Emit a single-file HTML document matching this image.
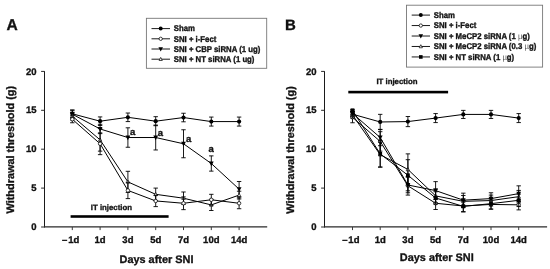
<!DOCTYPE html>
<html><head><meta charset="utf-8"><title>Figure</title>
<style>html,body{margin:0;padding:0;background:#fff}svg{display:block}</style></head>
<body>
<svg width="550" height="269" viewBox="0 0 550 269" font-family='"Liberation Sans", Arial, sans-serif' font-weight="bold" fill="#111">
<style>text{text-rendering:geometricPrecision;stroke:#111;stroke-width:0.32px;paint-order:stroke}.mu{stroke:none;fill:#555}.t9{font-size:9.5px}.t10{font-size:10.9px}.tl{font-size:8.1px}.pl{font-size:16px}.mu{font-weight:normal}</style>
<rect width="550" height="269" fill="#fff"/>
<path d="M44.5 71.2V227.4" stroke="#1a1a1a" stroke-width="1" fill="none"/>
<path d="M44.0 226.9H267.2" stroke="#2a2a2a" stroke-width="1.3" fill="none"/>
<path d="M41.10 227.00H44.5" stroke="#2a2a2a" stroke-width="1.0"/>
<text x="36.60" y="230.15" text-anchor="end" class="t9">0</text>
<path d="M41.10 188.10H44.5" stroke="#2a2a2a" stroke-width="1.0"/>
<text x="36.60" y="191.25" text-anchor="end" class="t9">5</text>
<path d="M41.10 149.20H44.5" stroke="#2a2a2a" stroke-width="1.0"/>
<text x="36.60" y="152.35" text-anchor="end" class="t9">10</text>
<path d="M41.10 110.30H44.5" stroke="#2a2a2a" stroke-width="1.0"/>
<text x="36.60" y="113.45" text-anchor="end" class="t9">15</text>
<path d="M41.10 71.40H44.5" stroke="#2a2a2a" stroke-width="1.0"/>
<text x="36.60" y="74.55" text-anchor="end" class="t9">20</text>
<path d="M72.30 227V230.1" stroke="#333" stroke-width="0.95"/>
<text x="70.60" y="243.3" text-anchor="middle" class="t9"><tspan letter-spacing="0.9">–</tspan>1d</text>
<path d="M100.10 227V230.1" stroke="#333" stroke-width="0.95"/>
<text x="100.10" y="243.3" text-anchor="middle" class="t9">1d</text>
<path d="M127.90 227V230.1" stroke="#333" stroke-width="0.95"/>
<text x="127.90" y="243.3" text-anchor="middle" class="t9">3d</text>
<path d="M155.70 227V230.1" stroke="#333" stroke-width="0.95"/>
<text x="155.70" y="243.3" text-anchor="middle" class="t9">5d</text>
<path d="M183.50 227V230.1" stroke="#333" stroke-width="0.95"/>
<text x="183.50" y="243.3" text-anchor="middle" class="t9">7d</text>
<path d="M211.30 227V230.1" stroke="#333" stroke-width="0.95"/>
<text x="211.30" y="243.3" text-anchor="middle" class="t9">10d</text>
<path d="M239.10 227V230.1" stroke="#333" stroke-width="0.95"/>
<text x="239.10" y="243.3" text-anchor="middle" class="t9">14d</text>
<text x="6.5" y="29.7" class="pl" style="font-size:15.6px">A</text>
<text transform="translate(14.2,149.7) rotate(-90)" text-anchor="middle" class="t10">Withdrawal threshold (g)</text>
<text x="156.5" y="262.6" text-anchor="middle" class="t10">Days after SNI</text>
<rect x="70.6" y="215.2" width="98" height="2.6" fill="#000"/>
<text x="90.8" y="209.7" class="tl" style="font-size:7.8px">IT injection</text>
<polyline points="72.30,113.80 100.10,121.19 127.90,117.30 155.70,121.19 183.50,117.54 211.30,121.58 239.10,121.58" fill="none" stroke="#000" stroke-width="1.0"/>
<path d="M72.30 109.91V117.69M70.10 109.91h4.4M70.10 117.69h4.4" stroke="#000" stroke-width="0.9" fill="none"/>
<path d="M100.10 116.91V125.47M97.90 116.91h4.4M97.90 125.47h4.4" stroke="#000" stroke-width="0.9" fill="none"/>
<path d="M127.90 113.02V121.58M125.70 113.02h4.4M125.70 121.58h4.4" stroke="#000" stroke-width="0.9" fill="none"/>
<path d="M155.70 116.68V125.70M153.50 116.68h4.4M153.50 125.70h4.4" stroke="#000" stroke-width="0.9" fill="none"/>
<path d="M183.50 113.26V121.81M181.30 113.26h4.4M181.30 121.81h4.4" stroke="#000" stroke-width="0.9" fill="none"/>
<path d="M211.30 117.07V126.09M209.10 117.07h4.4M209.10 126.09h4.4" stroke="#000" stroke-width="0.9" fill="none"/>
<path d="M239.10 117.07V126.09M236.90 117.07h4.4M236.90 126.09h4.4" stroke="#000" stroke-width="0.9" fill="none"/>
<circle cx="72.30" cy="113.80" r="2.10" fill="#000"/>
<circle cx="100.10" cy="121.19" r="2.10" fill="#000"/>
<circle cx="127.90" cy="117.30" r="2.10" fill="#000"/>
<circle cx="155.70" cy="121.19" r="2.10" fill="#000"/>
<circle cx="183.50" cy="117.54" r="2.10" fill="#000"/>
<circle cx="211.30" cy="121.58" r="2.10" fill="#000"/>
<circle cx="239.10" cy="121.58" r="2.10" fill="#000"/>
<polyline points="72.30,114.19 100.10,128.97 127.90,137.53 155.70,137.53 183.50,143.75 211.30,163.52 239.10,189.11" fill="none" stroke="#000" stroke-width="1.0"/>
<path d="M72.30 110.30V118.08M70.10 110.30h4.4M70.10 118.08h4.4" stroke="#000" stroke-width="0.9" fill="none"/>
<path d="M100.10 124.30V133.64M97.90 124.30h4.4M97.90 133.64h4.4" stroke="#000" stroke-width="0.9" fill="none"/>
<path d="M127.90 127.80V147.25M125.70 127.80h4.4M125.70 147.25h4.4" stroke="#000" stroke-width="0.9" fill="none"/>
<path d="M155.70 125.08V149.98M153.50 125.08h4.4M153.50 149.98h4.4" stroke="#000" stroke-width="0.9" fill="none"/>
<path d="M183.50 129.75V157.76M181.30 129.75h4.4M181.30 157.76h4.4" stroke="#000" stroke-width="0.9" fill="none"/>
<path d="M211.30 155.89V171.14M209.10 155.89h4.4M209.10 171.14h4.4" stroke="#000" stroke-width="0.9" fill="none"/>
<path d="M239.10 181.49V196.74M236.90 181.49h4.4M236.90 196.74h4.4" stroke="#000" stroke-width="0.9" fill="none"/>
<polygon points="69.90,112.27 74.70,112.27 72.30,116.83" fill="#000"/>
<polygon points="97.70,127.05 102.50,127.05 100.10,131.61" fill="#000"/>
<polygon points="125.50,135.61 130.30,135.61 127.90,140.17" fill="#000"/>
<polygon points="153.30,135.61 158.10,135.61 155.70,140.17" fill="#000"/>
<polygon points="181.10,141.83 185.90,141.83 183.50,146.39" fill="#000"/>
<polygon points="208.90,161.60 213.70,161.60 211.30,166.16" fill="#000"/>
<polygon points="236.70,187.19 241.50,187.19 239.10,191.75" fill="#000"/>
<polyline points="72.30,116.13 100.10,139.86 127.90,181.88 155.70,194.32 183.50,198.21 211.30,204.90 239.10,195.10" fill="none" stroke="#000" stroke-width="1.0"/>
<path d="M72.30 112.24V120.02M70.10 112.24h4.4M70.10 120.02h4.4" stroke="#000" stroke-width="0.9" fill="none"/>
<path d="M100.10 128.58V151.14M97.90 128.58h4.4M97.90 151.14h4.4" stroke="#000" stroke-width="0.9" fill="none"/>
<path d="M127.90 171.30V192.46M125.70 171.30h4.4M125.70 192.46h4.4" stroke="#000" stroke-width="0.9" fill="none"/>
<path d="M155.70 188.10V200.55M153.50 188.10h4.4M153.50 200.55h4.4" stroke="#000" stroke-width="0.9" fill="none"/>
<path d="M183.50 191.99V204.44M181.30 191.99h4.4M181.30 204.44h4.4" stroke="#000" stroke-width="0.9" fill="none"/>
<path d="M211.30 199.30V210.51M209.10 199.30h4.4M209.10 210.51h4.4" stroke="#000" stroke-width="0.9" fill="none"/>
<path d="M239.10 191.21V198.99M236.90 191.21h4.4M236.90 198.99h4.4" stroke="#000" stroke-width="0.9" fill="none"/>
<polygon points="70.60,117.49 74.00,117.49 72.30,114.26" fill="#fff" stroke="#000" stroke-width="0.7"/>
<polygon points="98.40,141.22 101.80,141.22 100.10,137.99" fill="#fff" stroke="#000" stroke-width="0.7"/>
<polygon points="126.20,183.24 129.60,183.24 127.90,180.01" fill="#fff" stroke="#000" stroke-width="0.7"/>
<polygon points="154.00,195.68 157.40,195.68 155.70,192.45" fill="#fff" stroke="#000" stroke-width="0.7"/>
<polygon points="181.80,199.57 185.20,199.57 183.50,196.34" fill="#fff" stroke="#000" stroke-width="0.7"/>
<polygon points="209.60,206.26 213.00,206.26 211.30,203.03" fill="#fff" stroke="#000" stroke-width="0.7"/>
<polygon points="237.40,196.46 240.80,196.46 239.10,193.23" fill="#fff" stroke="#000" stroke-width="0.7"/>
<polyline points="72.30,119.25 100.10,143.75 127.90,190.43 155.70,200.94 183.50,203.27 211.30,199.77 239.10,203.27" fill="none" stroke="#000" stroke-width="1.0"/>
<path d="M72.30 115.75V122.75M70.10 115.75h4.4M70.10 122.75h4.4" stroke="#000" stroke-width="0.9" fill="none"/>
<path d="M100.10 132.86V154.65M97.90 132.86h4.4M97.90 154.65h4.4" stroke="#000" stroke-width="0.9" fill="none"/>
<path d="M127.90 182.26V198.60M125.70 182.26h4.4M125.70 198.60h4.4" stroke="#000" stroke-width="0.9" fill="none"/>
<path d="M155.70 195.26V206.62M153.50 195.26h4.4M153.50 206.62h4.4" stroke="#000" stroke-width="0.9" fill="none"/>
<path d="M183.50 196.89V209.65M181.30 196.89h4.4M181.30 209.65h4.4" stroke="#000" stroke-width="0.9" fill="none"/>
<path d="M211.30 194.32V205.22M209.10 194.32h4.4M209.10 205.22h4.4" stroke="#000" stroke-width="0.9" fill="none"/>
<path d="M239.10 197.82V208.72M236.90 197.82h4.4M236.90 208.72h4.4" stroke="#000" stroke-width="0.9" fill="none"/>
<circle cx="72.30" cy="119.25" r="1.75" fill="#fff" stroke="#000" stroke-width="0.75"/>
<circle cx="100.10" cy="143.75" r="1.75" fill="#fff" stroke="#000" stroke-width="0.75"/>
<circle cx="127.90" cy="190.43" r="1.75" fill="#fff" stroke="#000" stroke-width="0.75"/>
<circle cx="155.70" cy="200.94" r="1.75" fill="#fff" stroke="#000" stroke-width="0.75"/>
<circle cx="183.50" cy="203.27" r="1.75" fill="#fff" stroke="#000" stroke-width="0.75"/>
<circle cx="211.30" cy="199.77" r="1.75" fill="#fff" stroke="#000" stroke-width="0.75"/>
<circle cx="239.10" cy="203.27" r="1.75" fill="#fff" stroke="#000" stroke-width="0.75"/>
<text x="132.6" y="134.9" text-anchor="middle" class="t9">a</text>
<text x="160.3" y="136.2" text-anchor="middle" class="t9">a</text>
<text x="188.6" y="142.3" text-anchor="middle" class="t9">a</text>
<text x="211.2" y="152.0" text-anchor="middle" class="t9">a</text>
<rect x="146.4" y="18.3" width="120.3" height="50" fill="#fff" stroke="#777" stroke-width="0.9"/>
<path d="M151.5 28.60H170" stroke="#000" stroke-width="0.9"/>
<circle cx="160.70" cy="28.60" r="1.99" fill="#000"/>
<text transform="translate(173.8,31.40) scale(0.96,1.04)" class="tl">Sham</text>
<path d="M151.5 38.80H170" stroke="#000" stroke-width="0.9"/>
<circle cx="160.70" cy="38.80" r="1.66" fill="#fff" stroke="#000" stroke-width="0.75"/>
<text transform="translate(173.8,41.60) scale(0.96,1.04)" class="tl">SNI + i-Fect</text>
<path d="M151.5 49.00H170" stroke="#000" stroke-width="0.9"/>
<polygon points="158.42,47.18 162.98,47.18 160.70,51.51" fill="#000"/>
<text transform="translate(173.8,51.80) scale(0.96,1.04)" class="tl">SNI + CBP siRNA (1 ug)</text>
<path d="M151.5 59.20H170" stroke="#000" stroke-width="0.9"/>
<polygon points="159.08,60.49 162.31,60.49 160.70,57.42" fill="#fff" stroke="#000" stroke-width="0.7"/>
<text transform="translate(173.8,62.00) scale(0.96,1.04)" class="tl">SNI + NT siRNA (1 ug)</text>
<path d="M324.5 71.2V227.4" stroke="#1a1a1a" stroke-width="1" fill="none"/>
<path d="M324.0 226.9H547.1" stroke="#2a2a2a" stroke-width="1.3" fill="none"/>
<path d="M321.10 227.00H324.5" stroke="#2a2a2a" stroke-width="1.0"/>
<text x="316.60" y="230.15" text-anchor="end" class="t9">0</text>
<path d="M321.10 188.10H324.5" stroke="#2a2a2a" stroke-width="1.0"/>
<text x="316.60" y="191.25" text-anchor="end" class="t9">5</text>
<path d="M321.10 149.20H324.5" stroke="#2a2a2a" stroke-width="1.0"/>
<text x="316.60" y="152.35" text-anchor="end" class="t9">10</text>
<path d="M321.10 110.30H324.5" stroke="#2a2a2a" stroke-width="1.0"/>
<text x="316.60" y="113.45" text-anchor="end" class="t9">15</text>
<path d="M321.10 71.40H324.5" stroke="#2a2a2a" stroke-width="1.0"/>
<text x="316.60" y="74.55" text-anchor="end" class="t9">20</text>
<path d="M352.50 227V230.1" stroke="#333" stroke-width="0.95"/>
<text x="350.80" y="242.9" text-anchor="middle" class="t9"><tspan letter-spacing="0.9">–</tspan>1d</text>
<path d="M380.20 227V230.1" stroke="#333" stroke-width="0.95"/>
<text x="380.20" y="242.9" text-anchor="middle" class="t9">1d</text>
<path d="M407.90 227V230.1" stroke="#333" stroke-width="0.95"/>
<text x="407.90" y="242.9" text-anchor="middle" class="t9">3d</text>
<path d="M435.60 227V230.1" stroke="#333" stroke-width="0.95"/>
<text x="435.60" y="242.9" text-anchor="middle" class="t9">5d</text>
<path d="M463.30 227V230.1" stroke="#333" stroke-width="0.95"/>
<text x="463.30" y="242.9" text-anchor="middle" class="t9">7d</text>
<path d="M491.00 227V230.1" stroke="#333" stroke-width="0.95"/>
<text x="491.00" y="242.9" text-anchor="middle" class="t9">10d</text>
<path d="M518.70 227V230.1" stroke="#333" stroke-width="0.95"/>
<text x="518.70" y="242.9" text-anchor="middle" class="t9">14d</text>
<text x="284.9" y="29.7" class="pl" style="font-size:15px">B</text>
<text transform="translate(294.3,150.0) rotate(-90)" text-anchor="middle" class="t10">Withdrawal threshold (g)</text>
<text x="436.8" y="261.0" text-anchor="middle" class="t10">Days after SNI</text>
<rect x="348.3" y="90.8" width="99.8" height="2.6" fill="#000"/>
<text x="376.4" y="84.4" class="tl" style="font-size:7.8px">IT injection</text>
<polyline points="352.50,114.19 380.20,121.97 407.90,121.58 435.60,118.08 463.30,114.42 491.00,114.42 518.70,118.08" fill="none" stroke="#000" stroke-width="1.0"/>
<path d="M352.50 111.86V116.52M350.30 111.86h4.4M350.30 116.52h4.4" stroke="#000" stroke-width="0.9" fill="none"/>
<path d="M380.20 114.35V129.59M378.00 114.35h4.4M378.00 129.59h4.4" stroke="#000" stroke-width="0.9" fill="none"/>
<path d="M407.90 116.52V126.64M405.70 116.52h4.4M405.70 126.64h4.4" stroke="#000" stroke-width="0.9" fill="none"/>
<path d="M435.60 113.57V122.59M433.40 113.57h4.4M433.40 122.59h4.4" stroke="#000" stroke-width="0.9" fill="none"/>
<path d="M463.30 110.38V118.47M461.10 110.38h4.4M461.10 118.47h4.4" stroke="#000" stroke-width="0.9" fill="none"/>
<path d="M491.00 110.38V118.47M488.80 110.38h4.4M488.80 118.47h4.4" stroke="#000" stroke-width="0.9" fill="none"/>
<path d="M518.70 113.57V122.59M516.50 113.57h4.4M516.50 122.59h4.4" stroke="#000" stroke-width="0.9" fill="none"/>
<circle cx="352.50" cy="114.19" r="2.10" fill="#000"/>
<circle cx="380.20" cy="121.97" r="2.10" fill="#000"/>
<circle cx="407.90" cy="121.58" r="2.10" fill="#000"/>
<circle cx="435.60" cy="118.08" r="2.10" fill="#000"/>
<circle cx="463.30" cy="114.42" r="2.10" fill="#000"/>
<circle cx="491.00" cy="114.42" r="2.10" fill="#000"/>
<circle cx="518.70" cy="118.08" r="2.10" fill="#000"/>
<polyline points="352.50,117.30 380.20,141.42 407.90,185.77 435.60,203.27 463.30,205.99 491.00,204.44 518.70,204.83" fill="none" stroke="#000" stroke-width="1.0"/>
<path d="M352.50 111.86V122.75M350.30 111.86h4.4M350.30 122.75h4.4" stroke="#000" stroke-width="0.9" fill="none"/>
<path d="M380.20 131.69V151.14M378.00 131.69h4.4M378.00 151.14h4.4" stroke="#000" stroke-width="0.9" fill="none"/>
<path d="M407.90 176.43V195.10M405.70 176.43h4.4M405.70 195.10h4.4" stroke="#000" stroke-width="0.9" fill="none"/>
<path d="M435.60 197.05V209.50M433.40 197.05h4.4M433.40 209.50h4.4" stroke="#000" stroke-width="0.9" fill="none"/>
<path d="M463.30 200.39V211.60M461.10 200.39h4.4M461.10 211.60h4.4" stroke="#000" stroke-width="0.9" fill="none"/>
<path d="M491.00 199.77V209.11M488.80 199.77h4.4M488.80 209.11h4.4" stroke="#000" stroke-width="0.9" fill="none"/>
<path d="M518.70 199.77V209.88M516.50 199.77h4.4M516.50 209.88h4.4" stroke="#000" stroke-width="0.9" fill="none"/>
<circle cx="352.50" cy="117.30" r="1.75" fill="#fff" stroke="#000" stroke-width="0.75"/>
<circle cx="380.20" cy="141.42" r="1.75" fill="#fff" stroke="#000" stroke-width="0.75"/>
<circle cx="407.90" cy="185.77" r="1.75" fill="#fff" stroke="#000" stroke-width="0.75"/>
<circle cx="435.60" cy="203.27" r="1.75" fill="#fff" stroke="#000" stroke-width="0.75"/>
<circle cx="463.30" cy="205.99" r="1.75" fill="#fff" stroke="#000" stroke-width="0.75"/>
<circle cx="491.00" cy="204.44" r="1.75" fill="#fff" stroke="#000" stroke-width="0.75"/>
<circle cx="518.70" cy="204.83" r="1.75" fill="#fff" stroke="#000" stroke-width="0.75"/>
<polyline points="352.50,114.97 380.20,154.65 407.90,169.43 435.60,195.88 463.30,201.33 491.00,200.55 518.70,196.66" fill="none" stroke="#000" stroke-width="1.0"/>
<path d="M352.50 111.86V118.08M350.30 111.86h4.4M350.30 118.08h4.4" stroke="#000" stroke-width="0.9" fill="none"/>
<path d="M380.20 142.20V167.09M378.00 142.20h4.4M378.00 167.09h4.4" stroke="#000" stroke-width="0.9" fill="none"/>
<path d="M407.90 153.87V184.99M405.70 153.87h4.4M405.70 184.99h4.4" stroke="#000" stroke-width="0.9" fill="none"/>
<path d="M435.60 188.88V202.88M433.40 188.88h4.4M433.40 202.88h4.4" stroke="#000" stroke-width="0.9" fill="none"/>
<path d="M463.30 195.49V207.16M461.10 195.49h4.4M461.10 207.16h4.4" stroke="#000" stroke-width="0.9" fill="none"/>
<path d="M491.00 195.10V205.99M488.80 195.10h4.4M488.80 205.99h4.4" stroke="#000" stroke-width="0.9" fill="none"/>
<path d="M518.70 190.43V202.88M516.50 190.43h4.4M516.50 202.88h4.4" stroke="#000" stroke-width="0.9" fill="none"/>
<polygon points="350.80,116.33 354.20,116.33 352.50,113.10" fill="#fff" stroke="#000" stroke-width="0.7"/>
<polygon points="378.50,156.01 381.90,156.01 380.20,152.78" fill="#fff" stroke="#000" stroke-width="0.7"/>
<polygon points="406.20,170.79 409.60,170.79 407.90,167.56" fill="#fff" stroke="#000" stroke-width="0.7"/>
<polygon points="433.90,197.24 437.30,197.24 435.60,194.01" fill="#fff" stroke="#000" stroke-width="0.7"/>
<polygon points="461.60,202.69 465.00,202.69 463.30,199.46" fill="#fff" stroke="#000" stroke-width="0.7"/>
<polygon points="489.30,201.91 492.70,201.91 491.00,198.68" fill="#fff" stroke="#000" stroke-width="0.7"/>
<polygon points="517.00,198.02 520.40,198.02 518.70,194.79" fill="#fff" stroke="#000" stroke-width="0.7"/>
<polyline points="352.50,113.41 380.20,137.53 407.90,184.99 435.60,190.59 463.30,200.16 491.00,198.60 518.70,193.62" fill="none" stroke="#000" stroke-width="1.0"/>
<path d="M352.50 111.08V115.75M350.30 111.08h4.4M350.30 115.75h4.4" stroke="#000" stroke-width="0.9" fill="none"/>
<path d="M380.20 129.36V145.70M378.00 129.36h4.4M378.00 145.70h4.4" stroke="#000" stroke-width="0.9" fill="none"/>
<path d="M407.90 177.21V192.77M405.70 177.21h4.4M405.70 192.77h4.4" stroke="#000" stroke-width="0.9" fill="none"/>
<path d="M435.60 181.64V199.54M433.40 181.64h4.4M433.40 199.54h4.4" stroke="#000" stroke-width="0.9" fill="none"/>
<path d="M463.30 193.16V207.16M461.10 193.16h4.4M461.10 207.16h4.4" stroke="#000" stroke-width="0.9" fill="none"/>
<path d="M491.00 192.77V204.44M488.80 192.77h4.4M488.80 204.44h4.4" stroke="#000" stroke-width="0.9" fill="none"/>
<path d="M518.70 185.84V201.40M516.50 185.84h4.4M516.50 201.40h4.4" stroke="#000" stroke-width="0.9" fill="none"/>
<polygon points="350.10,111.49 354.90,111.49 352.50,116.05" fill="#000"/>
<polygon points="377.80,135.61 382.60,135.61 380.20,140.17" fill="#000"/>
<polygon points="405.50,183.07 410.30,183.07 407.90,187.63" fill="#000"/>
<polygon points="433.20,188.67 438.00,188.67 435.60,193.23" fill="#000"/>
<polygon points="460.90,198.24 465.70,198.24 463.30,202.80" fill="#000"/>
<polygon points="488.60,196.68 493.40,196.68 491.00,201.24" fill="#000"/>
<polygon points="516.30,191.70 521.10,191.70 518.70,196.26" fill="#000"/>
<polyline points="352.50,110.30 380.20,153.87 407.90,175.26 435.60,197.98 463.30,206.38 491.00,203.66 518.70,200.31" fill="none" stroke="#000" stroke-width="1.0"/>
<path d="M352.50 109.52V111.08M350.30 109.52h4.4M350.30 111.08h4.4" stroke="#000" stroke-width="0.9" fill="none"/>
<path d="M380.20 140.64V167.09M378.00 140.64h4.4M378.00 167.09h4.4" stroke="#000" stroke-width="0.9" fill="none"/>
<path d="M407.90 159.70V190.82M405.70 159.70h4.4M405.70 190.82h4.4" stroke="#000" stroke-width="0.9" fill="none"/>
<path d="M435.60 191.76V204.20M433.40 191.76h4.4M433.40 204.20h4.4" stroke="#000" stroke-width="0.9" fill="none"/>
<path d="M463.30 200.78V211.98M461.10 200.78h4.4M461.10 211.98h4.4" stroke="#000" stroke-width="0.9" fill="none"/>
<path d="M491.00 198.21V209.11M488.80 198.21h4.4M488.80 209.11h4.4" stroke="#000" stroke-width="0.9" fill="none"/>
<path d="M518.70 194.09V206.54M516.50 194.09h4.4M516.50 206.54h4.4" stroke="#000" stroke-width="0.9" fill="none"/>
<rect x="350.60" y="108.40" width="3.80" height="3.80" fill="#000"/>
<rect x="378.30" y="151.97" width="3.80" height="3.80" fill="#000"/>
<rect x="406.00" y="173.36" width="3.80" height="3.80" fill="#000"/>
<rect x="433.70" y="196.08" width="3.80" height="3.80" fill="#000"/>
<rect x="461.40" y="204.48" width="3.80" height="3.80" fill="#000"/>
<rect x="489.10" y="201.76" width="3.80" height="3.80" fill="#000"/>
<rect x="516.80" y="198.41" width="3.80" height="3.80" fill="#000"/>
<rect x="406.5" y="5.2" width="136.1" height="61.9" fill="#fff" stroke="#777" stroke-width="0.9"/>
<path d="M411.7 15.10H430" stroke="#000" stroke-width="0.9"/>
<circle cx="420.80" cy="15.10" r="1.99" fill="#000"/>
<text transform="translate(433.8,17.90) scale(0.96,1.04)" class="tl">Sham</text>
<path d="M411.7 25.56H430" stroke="#000" stroke-width="0.9"/>
<circle cx="420.80" cy="25.56" r="1.66" fill="#fff" stroke="#000" stroke-width="0.75"/>
<text transform="translate(433.8,28.36) scale(0.96,1.04)" class="tl">SNI + i-Fect</text>
<path d="M411.7 36.02H430" stroke="#000" stroke-width="0.9"/>
<polygon points="418.52,34.20 423.08,34.20 420.80,38.53" fill="#000"/>
<text transform="translate(433.8,38.82) scale(0.96,1.04)" class="tl">SNI + MeCP2 siRNA (1 <tspan class="mu">µ</tspan>g)</text>
<path d="M411.7 46.48H430" stroke="#000" stroke-width="0.9"/>
<polygon points="419.19,47.77 422.42,47.77 420.80,44.70" fill="#fff" stroke="#000" stroke-width="0.7"/>
<text transform="translate(433.8,49.28) scale(0.96,1.04)" class="tl">SNI + MeCP2 siRNA (0.3 <tspan class="mu">µ</tspan>g)</text>
<path d="M411.7 56.94H430" stroke="#000" stroke-width="0.9"/>
<rect x="419.00" y="55.14" width="3.61" height="3.61" fill="#000"/>
<text transform="translate(433.8,59.74) scale(0.96,1.04)" class="tl">SNI + NT siRNA (1 <tspan class="mu">µ</tspan>g)</text>
</svg>
</body></html>
